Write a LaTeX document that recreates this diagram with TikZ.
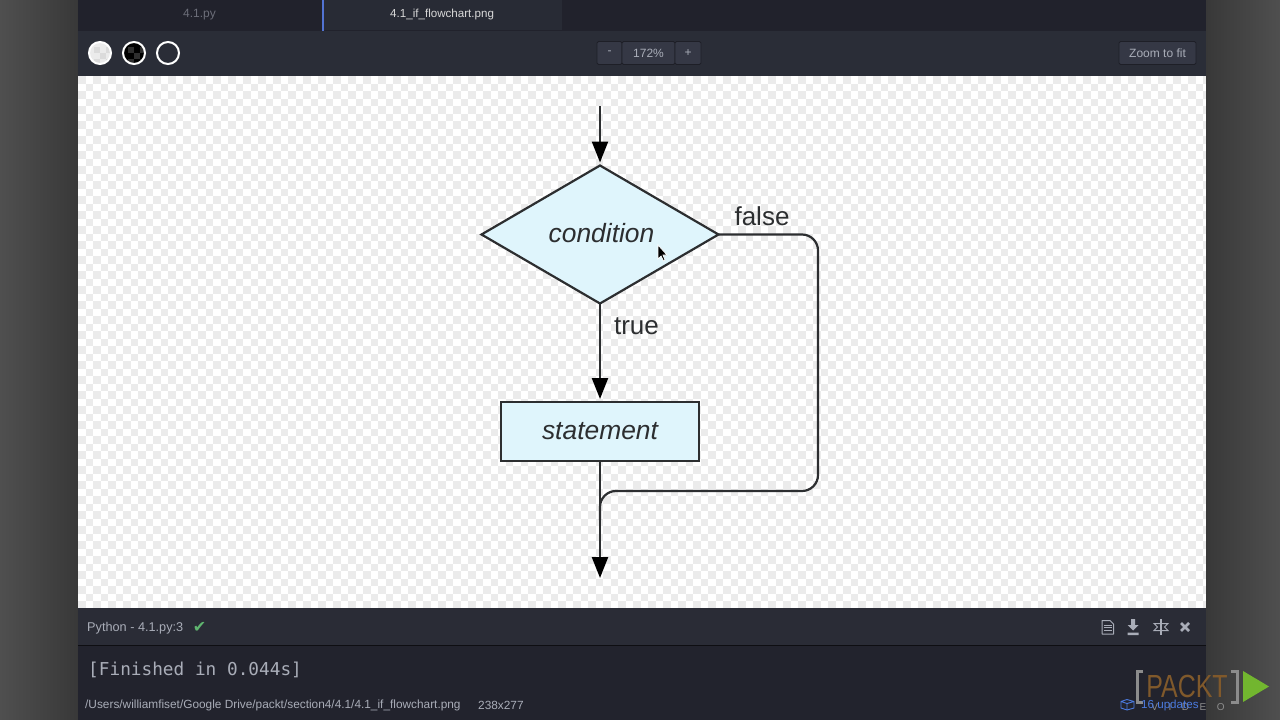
\documentclass[tikz,border=0pt]{standalone}
\usepackage{fontspec}
\setmainfont{Liberation Sans}
\newfontfamily\monofont{DejaVu Sans Mono}
\newfontfamily\symbfont{DejaVu Sans}
\usetikzlibrary{shapes.geometric,arrows.meta}
\definecolor{tabbar}{HTML}{21222C}
\definecolor{toolbar}{HTML}{2A2D37}
\definecolor{activetab}{HTML}{282B35}
\definecolor{panelbar}{HTML}{2A2C36}
\definecolor{panelbody}{HTML}{22232D}
\definecolor{chartfill}{HTML}{DFF5FC}
\definecolor{chartline}{HTML}{2C2E30}
\definecolor{uitext}{HTML}{A9ADB8}
\definecolor{btnfill}{HTML}{353845}
\definecolor{btnline}{HTML}{1E1F27}
\definecolor{tabblue}{HTML}{5273D2}
\definecolor{updateblue}{HTML}{4B7BE0}
\definecolor{okgreen}{HTML}{5FB56F}
\definecolor{logogray}{HTML}{8C8C8C}
\definecolor{logobrown}{HTML}{80592B}
\definecolor{logogreen}{HTML}{72B62F}
\tikzset{
  chartbox/.style={draw=chartline,line width=2.2pt,fill=chartfill,inner sep=0pt,outer sep=0pt,text=chartline,font=\fontsize{26.4}{30}\selectfont\itshape},
  chartlabel/.style={inner sep=0pt,text=chartline,font=\fontsize{26}{30}\selectfont},
  flow/.style={draw=chartline,line width=2.2pt},
  flowtip/.style={flow,-{Triangle[length=21pt,width=16pt,black]},shorten >=3pt},
  uibutton/.style={draw=btnline,line width=.8pt,fill=btnfill,rounded corners=1.5pt,text=uitext,inner sep=0pt,font=\fontsize{12}{14}\selectfont},
  uilabel/.style={inner sep=0pt,anchor=west,text=uitext,font=\fontsize{12}{14}\selectfont},
  swatch/.style={draw=white,line width=2pt},
  iconline/.style={draw=uitext,line width=1.3pt}
}
\begin{document}
\begin{tikzpicture}[x=1pt,y=-1pt]
\useasboundingbox (0,0) rectangle (1280,720);
% desktop behind the window
\fill [left color=black!69,right color=black!78] (0,0) rectangle (78,720);
\fill [left color=black!78,right color=black!69] (1206,0) rectangle (1280,720);
% window
\fill [tabbar] (78,0) rectangle (1206,31);
\fill [activetab] (323,0) rectangle (562,30);
\fill [toolbar] (78,31) rectangle (1206,76);
\fill [tabblue] (322,0) rectangle (324,31);
\node [uilabel,text=uitext!55!tabbar] (tabpy) at (183,15) {4.1.py};
\node [uilabel,text=white!85!black,font=\fontsize{11.6}{14}\selectfont] (tabpng) at (390,15) {4.1\_if\_flowchart.png};
% image pane
\fill [white] (78,76) rectangle (1206,608);
\begin{scope}
\clip (78,76) rectangle (1206,608);
\foreach \row in {0,...,71} {
  \pgfmathsetmacro{\rowy}{76+7.5*\row+3.75}
  \pgfmathsetmacro{\rowphase}{7.5*mod(\row,2)}
  \draw [black!8,line width=7.5pt,dash pattern=on 7.5pt off 7.5pt,dash phase=\rowphase pt] (78,\rowy) -- (1206,\rowy);
}
\end{scope}
% background swatches
\begin{scope}
\clip (100,53) circle (11);
\fill [white!92!black] (88,41) rectangle (112,65);
\foreach \a/\b in {94/47,100/53,94/59,106/47,106/59} \fill [black!14] (\a,\b) rectangle +(6,6);
\end{scope}
\draw [swatch] (100,53) circle (11);
\begin{scope}
\clip (134,53) circle (11);
\fill [black] (122,41) rectangle (146,65);
\foreach \a/\b in {128/47,134/53,128/59,140/47,140/59} \fill [black!82] (\a,\b) rectangle +(6,6);
\end{scope}
\draw [swatch] (134,53) circle (11);
\draw [swatch] (168,53) circle (11);
% zoom buttons
\node [uibutton,minimum width=25pt,minimum height=23pt] (minus) at (609.5,53) {-};
\node [uibutton,minimum width=53pt,minimum height=23pt] (zoomval) at (648.5,53) {172\%};
\node [uibutton,minimum width=26pt,minimum height=23pt] (plus) at (688,53) {+};
\node [uibutton,minimum width=77pt,minimum height=23pt] (zoomfit) at (1157.5,53) {Zoom to fit};
% flowchart
\coordinate (entry) at (600,106);
\node [chartbox,diamond,shape aspect=1.71,minimum width=237pt,minimum height=138pt] (condition) at (600,234.5) {\hspace{3pt}\raisebox{2.5pt}{condition}};
\node [chartbox,minimum width=198.5pt,minimum height=59pt] (statement) at (600,431.5) {\raisebox{-2pt}{statement}};
\coordinate (corner1) at (818,234.5);
\coordinate (corner2) at (818,491);
\coordinate (merge) at (600,491);
\coordinate (mergeend) at (600,520);
\coordinate (exit) at (600,581);
\draw [flowtip] (entry) -- (condition.north);
\draw [flowtip] (condition.south) -- (statement.north);
\draw [flow] (statement.south) -- (mergeend);
\draw [flow,rounded corners=16pt] (condition.east) -- (corner1) -- (corner2) -- (merge) -- (mergeend);
\draw [flowtip] (mergeend) -- (exit);
\node [chartlabel] (falselabel) at (762,216) {false};
\node [chartlabel] (truelabel) at (636.5,326) {true};
% mouse pointer
\draw [white,line width=.7pt,fill=black] (658,245) -- (658,259) -- (661,256) -- (663.5,261) -- (665,260) -- (663,255) -- (667,255) -- cycle;
% output panel
\fill [panelbar] (78,608) rectangle (1206,645);
\fill [panelbody] (78,645) rectangle (1206,720);
\draw [black!60!panelbody,line width=1pt] (78,645) -- (1206,645);
\node [uilabel,font=\fontsize{12.7}{14}\selectfont] (pyname) at (87,628) {Python - 4.1.py:3};
\node [inner sep=0pt,text=okgreen,font=\symbfont\fontsize{16}{18}\selectfont] (okmark) at (199.5,627) {✔};
\node [uilabel,text=uitext,font=\monofont\fontsize{17.75}{20}\selectfont] (finished) at (88,669.5) {[Finished in 0.044s]};
\node [uilabel,font=\fontsize{11.85}{14}\selectfont] (filepath) at (85,705.5) {/Users/williamfiset/Google Drive/packt/section4/4.1/4.1\_if\_flowchart.png};
\node [uilabel,font=\fontsize{11.85}{14}\selectfont] (filesize) at (478,705.5) {238x277};
% panel icons
\draw [iconline,line width=1pt,line join=round] (1102,620.5) -- (1110,620.5) -- (1113.5,624) -- (1113.5,634) -- (1102,634) -- cycle;
\foreach \y in {625,627.5,630} \draw [iconline,line width=.8pt] (1104,\y) -- (1111.5,\y);
\fill [uitext] (1131,619) rectangle (1135,625) (1127.5,625) -- (1138.5,625) -- (1133,630.5) -- cycle (1127.5,632.5) rectangle (1138.5,635);
\draw [iconline,line width=1pt] (1154,623.5) -- (1168,623.5) -- (1164.5,627) -- (1168,630.5) -- (1154,630.5) -- (1157.5,627) -- cycle;
\draw [iconline,line width=1.4pt] (1161,619) -- (1161,635);
\draw [uitext,line width=2.6pt] (1181,623) -- (1189,631) (1189,623) -- (1181,631);
% logo
\draw [logogray,line width=3pt] (1143,671.5) -- (1137,671.5) -- (1137,702.5) -- (1143,702.5);
\draw [logogray,line width=3pt] (1231,671.5) -- (1237,671.5) -- (1237,702.5) -- (1231,702.5);
\node [inner sep=0pt,text=logobrown,font=\fontsize{32}{34}\selectfont,xscale=.78] (packt) at (1187,686.5) {PACKT};
\node [inner sep=0pt,text=logogray,font=\fontsize{10}{12}\selectfont] (videoletters) at (1188,707) {V\hspace{10.5pt}I\hspace{10.5pt}D\hspace{10.5pt}E\hspace{10.5pt}O};
\fill [logogreen] (1243,671) -- (1269,686.5) -- (1243,702) -- cycle;
% updates note
\draw [updateblue,line width=.9pt,line join=round] (1121,701.5) -- (1127,699.5) -- (1134,701.5) -- (1134,708) -- (1127,710) -- (1121,708) -- cycle (1121,701.5) -- (1127,703.5) -- (1134,701.5) (1127,703.5) -- (1127,710);
\node [uilabel,text=updateblue,font=\fontsize{11.6}{14}\selectfont] (updates) at (1141,705) {16 updates};
\end{tikzpicture}
\end{document}
